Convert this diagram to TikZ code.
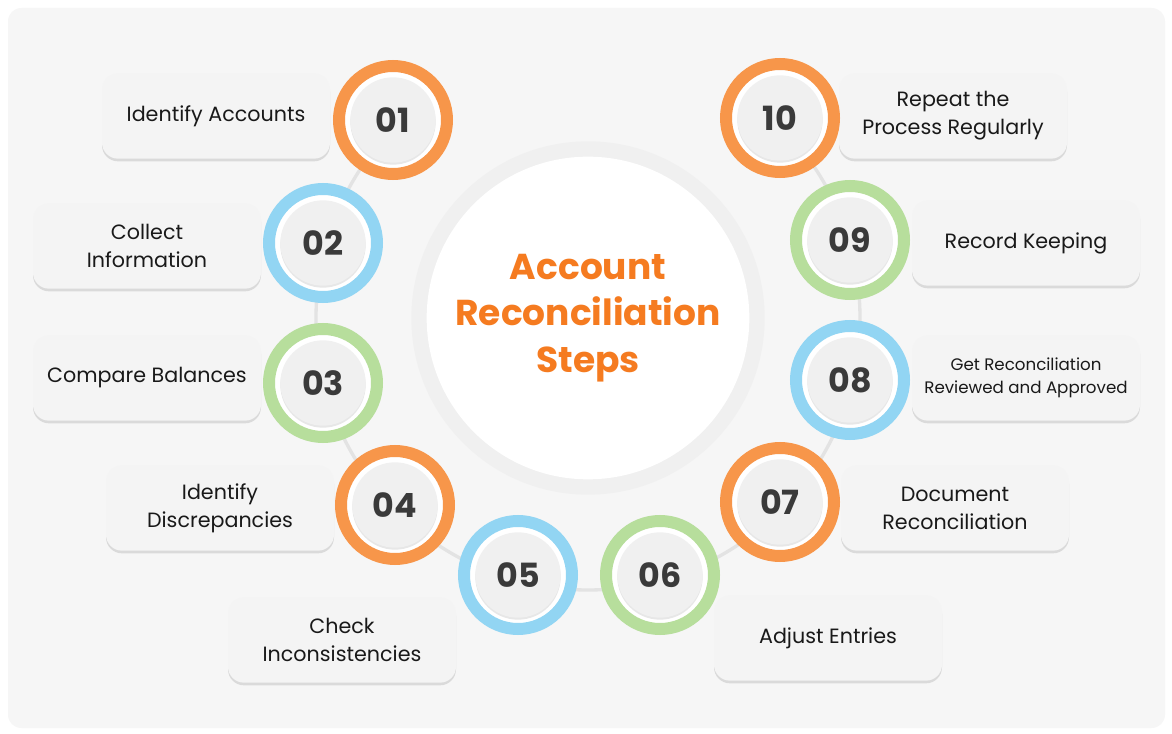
\documentclass[tikz,border=0pt]{standalone}
\usepackage{fontspec}
\setmainfont{Poppins}
\usepackage{tikz}
\usetikzlibrary{positioning, calc, shadows}
\definecolor{ringorange}{HTML}{F7964A}
\definecolor{ringblue}{HTML}{92D5F3}
\definecolor{ringgreen}{HTML}{B7DE9C}
\definecolor{titleorange}{HTML}{F57B20}
\definecolor{numgray}{HTML}{3A3A3A}
\definecolor{bggray}{HTML}{F6F6F6}
\tikzset{
    labelbox/.style={draw=none, fill=gray!9, rounded corners=12pt, minimum width=171pt, minimum height=64pt,
        align=center, font=\fontsize{15.5}{21}\selectfont, text=black!90,
        drop shadow={shadow xshift=0pt, shadow yshift=-2pt, opacity=0.35, fill=gray!70}},
    ring/.style={circle, minimum size=81pt, line width=9pt},
    ringcore/.style={circle, fill=gray!12, minimum size=64pt, font=\fontsize{25}{27}\bfseries\selectfont, text=numgray,
        drop shadow={shadow xshift=0pt, shadow yshift=-1.5pt, opacity=0.3, fill=gray!60}},
    trackline/.style={gray!22, line width=2.5pt}
}
\begin{document}
\begin{tikzpicture}[x=0.75pt, y=-0.75pt]
    \useasboundingbox (0,0) rectangle (1172,734);
    % background
    \fill[white] (0,0) rectangle (1172,734);
    \fill[bggray, rounded corners=10pt] (8,8) rectangle (1165,728);
    % track of the rings
    \coordinate (mid) at (588,318);
    \draw[trackline] ($(mid)+(-45:272)$) arc[start angle=-45, end angle=225, radius=272];
    % centre disc
    \node[circle, fill=gray!12, minimum size=265pt] (hub) at (mid) {};
    \node[circle, fill=white, minimum size=242pt, align=center, text=titleorange,
        font=\fontsize{27}{35}\bfseries\selectfont] (title) at (mid) {Account\\Reconciliation\\Steps};
    % label boxes
    \node[labelbox] (b1) at (216,116) {Identify Accounts};
    \node[labelbox] (b2) at (147,246) {Collect\\Information};
    \node[labelbox] (b3) at (147,378) {Compare Balances};
    \node[labelbox] (b4) at (220,508) {Identify\\Discrepancies};
    \node[labelbox] (b5) at (342,640) {Check\\Inconsistencies};
    \node[labelbox] (b6) at (828,638) {Adjust Entries};
    \node[labelbox] (b7) at (955,508) {Document\\Reconciliation};
    \node[labelbox, font=\fontsize{12.5}{17}\selectfont] (b8) at (1026,378) {Get Reconciliation\\Reviewed and Approved};
    \node[labelbox] (b9) at (1026,243) {Record Keeping};
    \node[labelbox] (b10) at (953,116) {Repeat the\\Process Regularly};
    % numbered rings
    \foreach \num/\px/\py/\col in {01/393/120/ringorange, 02/323/243/ringblue, 03/323/383/ringgreen,
        04/395/505/ringorange, 05/518/575/ringblue, 06/660/575/ringgreen, 07/780/502/ringorange,
        08/850/380/ringblue, 09/850/240/ringgreen, 10/780/118/ringorange} {
        \node[ring, draw=\col, fill=white] (r\num) at (\px,\py) {};
        \node[ringcore] (n\num) at (\px,\py) {\num};
    }
\end{tikzpicture}
\end{document}
